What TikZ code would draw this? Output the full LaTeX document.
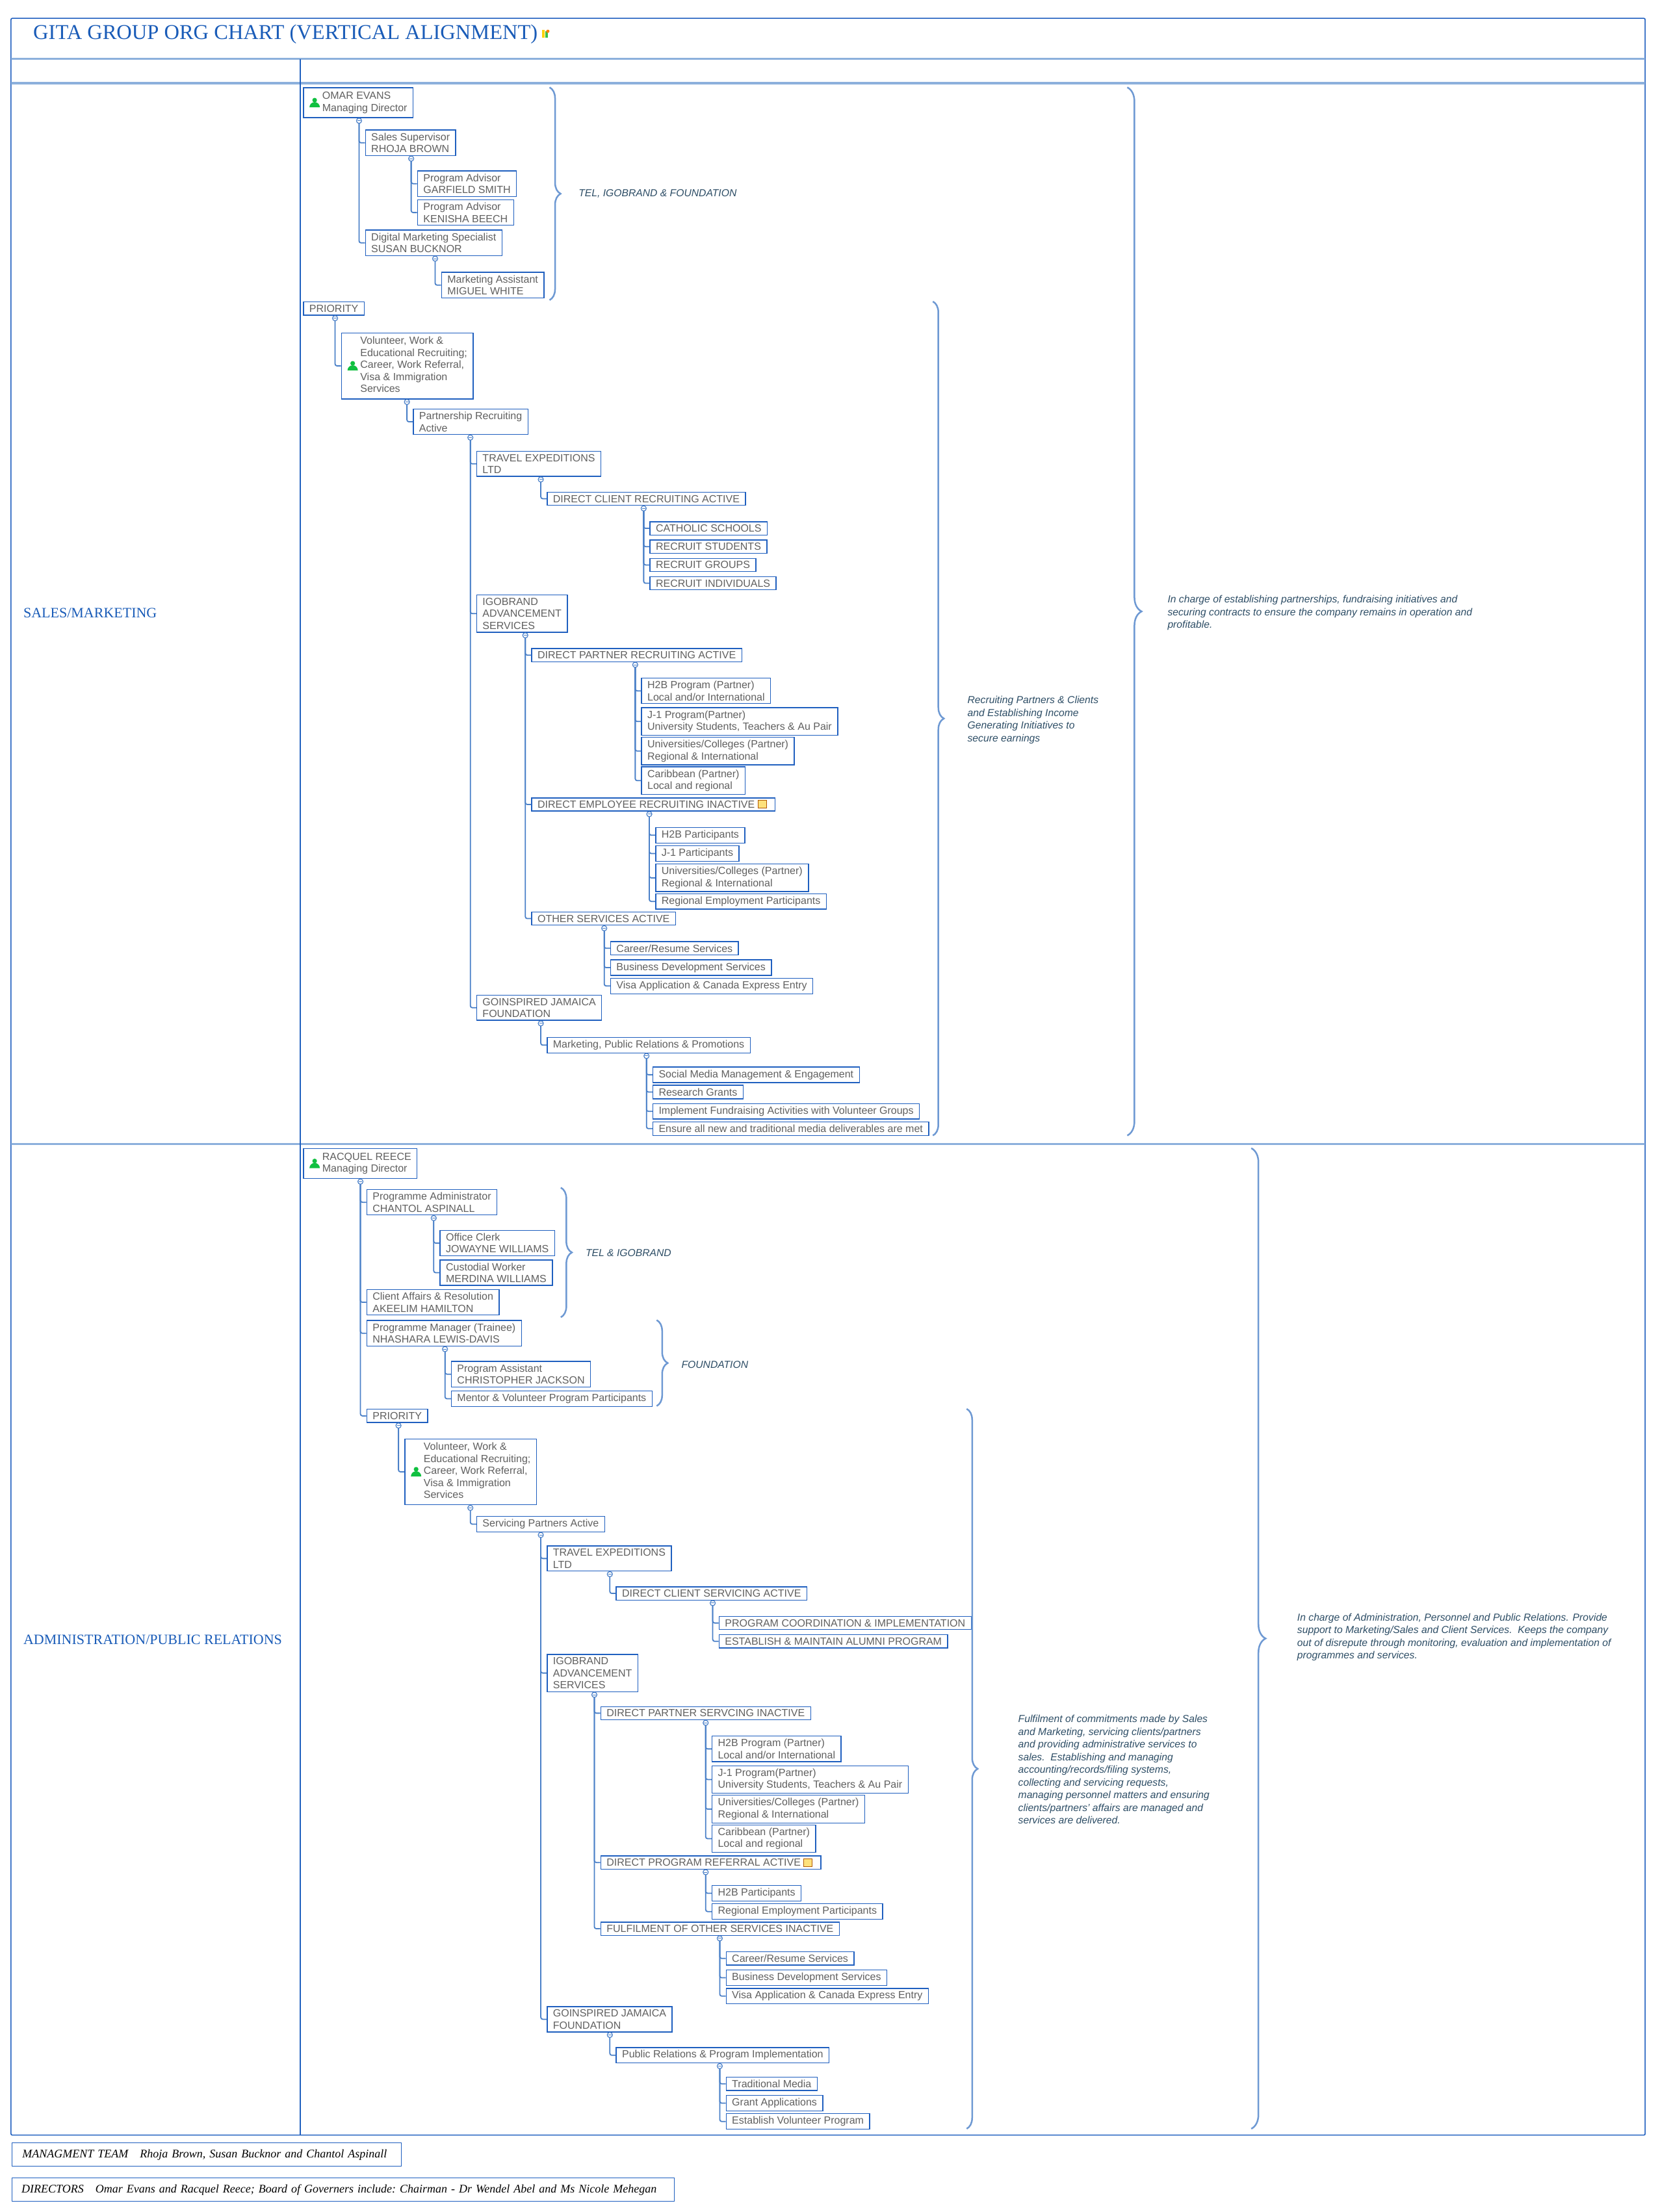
\documentclass[tikz,border=0pt]{standalone}
\usepackage{fontspec}
\setmainfont{Liberation Serif}
\setsansfont{Liberation Sans}
\usetikzlibrary{calc,decorations.pathreplacing}
\definecolor{boxblue}{HTML}{1F5FBF}
\definecolor{linblue}{HTML}{4A80C8}
\definecolor{lightblue}{HTML}{8CB0DC}
\definecolor{txtgray}{HTML}{606060}
\definecolor{titleblue}{HTML}{1A5CB8}
\definecolor{sidetxt}{HTML}{2E4E66}
\definecolor{pgreen}{HTML}{10C040}
\newcommand\fs{\sffamily\fontsize{16}{18.5}\selectfont}
\newcommand\bx[4]{\node[orgbox] (#1) at (#2,#3) {#4};}
\newcommand\ibx[4]{\node[orgbox] (#1) at (#2,#3) {\begin{tabular}{@{\hspace{20pt}}l@{}}#4\end{tabular}};
  \coordinate (pc) at ([xshift=18pt]#1.west);
  \fill[pgreen] ([yshift=4pt]pc) circle (3.6pt);
  \fill[pgreen] ([xshift=-8pt,yshift=-7pt]pc) arc[start angle=180,end angle=0,radius=8pt] -- cycle;}
\newcommand\note[1]{\filldraw[fill=yellow!60!orange!50,draw=orange!70!black,line width=1pt] ([xshift=-27pt,yshift=-6pt]#1.east) rectangle ++(13pt,12pt);}
\newcommand\grp[2]{\foreach \c in {#2}{\draw[conn] (\c.west) -- ++(-4.2,0) coordinate (tmp) -- (tmp |- #1.south);}
  \filldraw[fill=white,draw=linblue,line width=1.2pt] ([yshift=-4pt]tmp |- #1.south) circle (4pt);
  \draw[linblue,line width=1pt] ([yshift=-4pt,xshift=-2.5pt]tmp |- #1.south) -- ++(5pt,0);}
\tikzset{
 orgbox/.style={draw=boxblue,line width=1.4pt,anchor=north west,align=left,inner xsep=9pt,inner ysep=4.5pt,font=\fs,text=txtgray},
 conn/.style={draw=linblue,line width=1.8pt,rounded corners=3pt},
 side/.style={anchor=west,align=left,font=\sffamily\itshape\fontsize{15.7}{19.5}\selectfont,text=sidetxt},
 brc/.style={draw=linblue!80,line width=2.5pt,decorate,decoration={brace,amplitude=#1}},
 sect/.style={anchor=west,font=\rmfamily\fontsize{22}{26}\selectfont,text=titleblue},
 botbox/.style={draw=boxblue,line width=1.3pt,anchor=north west,inner xsep=0pt,font=\rmfamily\itshape\fontsize{18}{21}\selectfont,text=black},
 frame/.style={draw=boxblue,line width=1.6pt},
 hband/.style={draw=lightblue,line width=3.2pt}
}
\begin{document}
\begin{tikzpicture}[x=2.168pt,y=-2.168pt]
\useasboundingbox[fill=white] (0,0) rectangle (1176.2,1570.1);
% frame
\draw[frame,rounded corners=2pt] (7.8,1515.5) -- (7.8,13) -- (1167.5,13) -- (1167.5,1515.5) -- cycle;
\draw[hband] (7.8,41.8) -- (1167.5,41.8);
\draw[hband] (7.8,59) -- (1167.5,59);
\draw[hband] (7.8,812) -- (1167.5,812);
\draw[frame] (213,41.8) -- (213,1515.5);
\node[anchor=west,font=\rmfamily\fontsize{32.5}{36}\selectfont,text=titleblue] (title) at (22,24.5) {GITA GROUP ORG CHART (VERTICAL ALIGNMENT)};
\fill[yellow!70!orange] ([xshift=3pt,yshift=-5pt]title.east) rectangle ++(4pt,12pt);
\fill[green!50!gray] ([xshift=8pt,yshift=-5pt]title.east) rectangle ++(4pt,10pt);
\fill[orange] ([xshift=12pt,yshift=5pt]title.east) circle (2.5pt);
\node[sect] (s1) at (15,435) {SALES/MARKETING};
\node[sect] (s2) at (15,1164) {ADMINISTRATION/PUBLIC RELATIONS};
% ===== SALES =====
\ibx{omar}{215}{62}{OMAR EVANS\\Managing Director}
\bx{rhoja}{259}{92}{Sales Supervisor\\RHOJA BROWN}
\bx{garf}{296}{121}{Program Advisor\\GARFIELD SMITH}
\bx{ken}{296}{141.5}{Program Advisor\\KENISHA BEECH}
\bx{dig}{259}{163}{Digital Marketing Specialist\\SUSAN BUCKNOR}
\bx{mig}{313}{193}{Marketing Assistant\\MIGUEL WHITE}
\bx{pri1}{215}{214}{PRIORITY}
\ibx{vol1}{242}{236}{Volunteer, Work \&\\Educational Recruiting;\\Career, Work Referral,\\Visa \& Immigration\\Services}
\bx{part}{293}{290}{Partnership Recruiting\\Active}
\bx{tel1}{338}{320}{TRAVEL EXPEDITIONS\\LTD}
\bx{dcr}{388}{349}{DIRECT CLIENT RECRUITING ACTIVE}
\bx{cat}{461}{370}{CATHOLIC SCHOOLS}
\bx{rstu}{461}{383}{RECRUIT STUDENTS}
\bx{rgrp}{461}{396}{RECRUIT GROUPS}
\bx{rind}{461}{409}{RECRUIT INDIVIDUALS}
\bx{igo1}{338}{422}{IGOBRAND\\ADVANCEMENT\\SERVICES}
\bx{dpr}{377}{460}{DIRECT PARTNER RECRUITING ACTIVE}
\bx{hb1}{455}{481}{H2B Program (Partner)\\Local and/or International}
\bx{jo1}{455}{502}{J-1 Program(Partner)\\University Students, Teachers \& Au Pair}
\bx{un1}{455}{523}{Universities/Colleges (Partner)\\Regional \& International}
\bx{ca1}{455}{544}{Caribbean (Partner)\\Local and regional}
\bx{der}{377}{566}{DIRECT EMPLOYEE RECRUITING INACTIVE\hspace{22pt}}
\note{der}
\bx{hp1}{465}{587}{H2B Participants}
\bx{jp1}{465}{600}{J-1 Participants}
\bx{un2}{465}{613}{Universities/Colleges (Partner)\\Regional \& International}
\bx{re1}{465}{634}{Regional Employment Participants}
\bx{oth}{377}{647}{OTHER SERVICES ACTIVE}
\bx{cr1}{433}{668}{Career/Resume Services}
\bx{bd1}{433}{681}{Business Development Services}
\bx{vi1}{433}{694}{Visa Application \& Canada Express Entry}
\bx{go1}{338}{706}{GOINSPIRED JAMAICA\\FOUNDATION}
\bx{mpr}{388}{736}{Marketing, Public Relations \& Promotions}
\bx{smm}{463}{757}{Social Media Management \& Engagement}
\bx{rgr}{463}{770}{Research Grants}
\bx{ifa}{463}{783}{Implement Fundraising Activities with Volunteer Groups}
\bx{ens}{463}{796}{Ensure all new and traditional media deliverables are met}
\grp{omar}{rhoja,dig}
\grp{rhoja}{garf,ken}
\grp{dig}{mig}
\grp{pri1}{vol1}
\grp{vol1}{part}
\grp{part}{tel1,igo1,go1}
\grp{tel1}{dcr}
\grp{dcr}{cat,rstu,rgrp,rind}
\grp{igo1}{dpr,der,oth}
\grp{dpr}{hb1,jo1,un1,ca1}
\grp{der}{hp1,jp1,un2,re1}
\grp{oth}{cr1,bd1,vi1}
\grp{go1}{mpr}
\grp{mpr}{smm,rgr,ifa,ens}
\draw[brc=17pt] (390,62) -- (390,213);
\node[side] (t1) at (409,137.5) {TEL, IGOBRAND \& FOUNDATION};
\draw[brc=17pt] (662,214) -- (662,806);
\node[side] (t2) at (685,511) {Recruiting Partners \& Clients\\and Establishing Income\\Generating Initiatives to\\secure earnings};
\draw[brc=22pt] (800,62) -- (800,806);
\node[side] (t3) at (827,435) {In charge of establishing partnerships, fundraising initiatives and\\securing contracts to ensure the company remains in operation and\\profitable.};
% ===== ADMIN =====
\ibx{rac}{215}{815}{RACQUEL REECE\\Managing Director}
\bx{chan}{260}{844}{Programme Administrator\\CHANTOL ASPINALL}
\bx{clerk}{312}{873}{Office Clerk\\JOWAYNE WILLIAMS}
\bx{cust}{312}{894}{Custodial Worker\\MERDINA WILLIAMS}
\bx{cli}{260}{915}{Client Affairs \& Resolution\\AKEELIM HAMILTON}
\bx{pm}{260}{937}{Programme Manager (Trainee)\\NHASHARA LEWIS-DAVIS}
\bx{pas}{320}{966}{Program Assistant\\CHRISTOPHER JACKSON}
\bx{men}{320}{987}{Mentor \& Volunteer Program Participants}
\bx{pri2}{260}{1000}{PRIORITY}
\ibx{vol2}{287}{1021}{Volunteer, Work \&\\Educational Recruiting;\\Career, Work Referral,\\Visa \& Immigration\\Services}
\bx{serv}{338}{1076}{Servicing Partners Active}
\bx{tel2}{388}{1097}{TRAVEL EXPEDITIONS\\LTD}
\bx{dcs}{437}{1126}{DIRECT CLIENT SERVICING ACTIVE}
\bx{pci}{510}{1147}{PROGRAM COORDINATION \& IMPLEMENTATION}
\bx{ema}{510}{1160}{ESTABLISH \& MAINTAIN ALUMNI PROGRAM}
\bx{igo2}{388}{1174}{IGOBRAND\\ADVANCEMENT\\SERVICES}
\bx{dps}{426}{1211}{DIRECT PARTNER SERVCING INACTIVE}
\bx{hb2}{505}{1232}{H2B Program (Partner)\\Local and/or International}
\bx{jo2}{505}{1253}{J-1 Program(Partner)\\University Students, Teachers \& Au Pair}
\bx{un3}{505}{1274}{Universities/Colleges (Partner)\\Regional \& International}
\bx{ca2}{505}{1295}{Caribbean (Partner)\\Local and regional}
\bx{dpra}{426}{1317}{DIRECT PROGRAM REFERRAL ACTIVE\hspace{22pt}}
\note{dpra}
\bx{hp2}{505}{1338}{H2B Participants}
\bx{re2}{505}{1351}{Regional Employment Participants}
\bx{fos}{426}{1364}{FULFILMENT OF OTHER SERVICES INACTIVE}
\bx{cr2}{515}{1385}{Career/Resume Services}
\bx{bd2}{515}{1398}{Business Development Services}
\bx{vi2}{515}{1411}{Visa Application \& Canada Express Entry}
\bx{go2}{388}{1424}{GOINSPIRED JAMAICA\\FOUNDATION}
\bx{prp}{437}{1453}{Public Relations \& Program Implementation}
\bx{tm}{515}{1474}{Traditional Media}
\bx{ga}{515}{1487}{Grant Applications}
\bx{evp}{515}{1500}{Establish Volunteer Program}
\grp{rac}{chan,cli,pm,pri2}
\grp{chan}{clerk,cust}
\grp{pm}{pas,men}
\grp{pri2}{vol2}
\grp{vol2}{serv}
\grp{serv}{tel2,igo2,go2}
\grp{tel2}{dcs}
\grp{dcs}{pci,ema}
\grp{igo2}{dps,dpra,fos}
\grp{dps}{hb2,jo2,un3,ca2}
\grp{dpra}{hp2,re2}
\grp{fos}{cr2,bd2,vi2}
\grp{go2}{prp}
\grp{prp}{tm,ga,evp}
\draw[brc=17pt] (398,843) -- (398,935);
\node[side] (t4) at (414,889.5) {TEL \& IGOBRAND};
\draw[brc=17pt] (466,937) -- (466,998);
\node[side] (t5) at (482,968.5) {FOUNDATION};
\draw[brc=17pt] (686,1000) -- (686,1511);
\node[side] (t6) at (721,1256) {Fulfilment of commitments made by Sales\\and Marketing, servicing clients/partners\\and providing administrative services to\\sales.\ \ Establishing and managing\\accounting/records/filing systems,\\collecting and servicing requests,\\managing personnel matters and ensuring\\clients/partners' affairs are managed and\\services are delivered.};
\draw[brc=22pt] (888,815) -- (888,1511);
\node[side] (t7) at (919,1162) {In charge of Administration, Personnel and Public Relations. Provide\\support to Marketing/Sales and Client Services.\ \ Keeps the company\\out of disrepute through monitoring, evaluation and implementation of\\programmes and services.};
% bottom
\node[botbox,minimum width=276.3*2.168pt,minimum height=16.6*2.168pt,text width=270*2.168pt,align=left] (mgmt) at (8.3,1520.8) {\hspace*{9pt}MANAGMENT TEAM\ \ \ Rhoja Brown, Susan Bucknor and Chantol Aspinall};
\node[botbox,minimum width=470.1*2.168pt,minimum height=16.6*2.168pt,text width=465*2.168pt,align=left] (dirs) at (8.3,1545.7) {\hspace*{9pt}DIRECTORS\ \ \ Omar Evans and Racquel Reece; Board of Governers include:\ Chairman - Dr Wendel Abel and Ms Nicole Mehegan};
\end{tikzpicture}
\end{document}
